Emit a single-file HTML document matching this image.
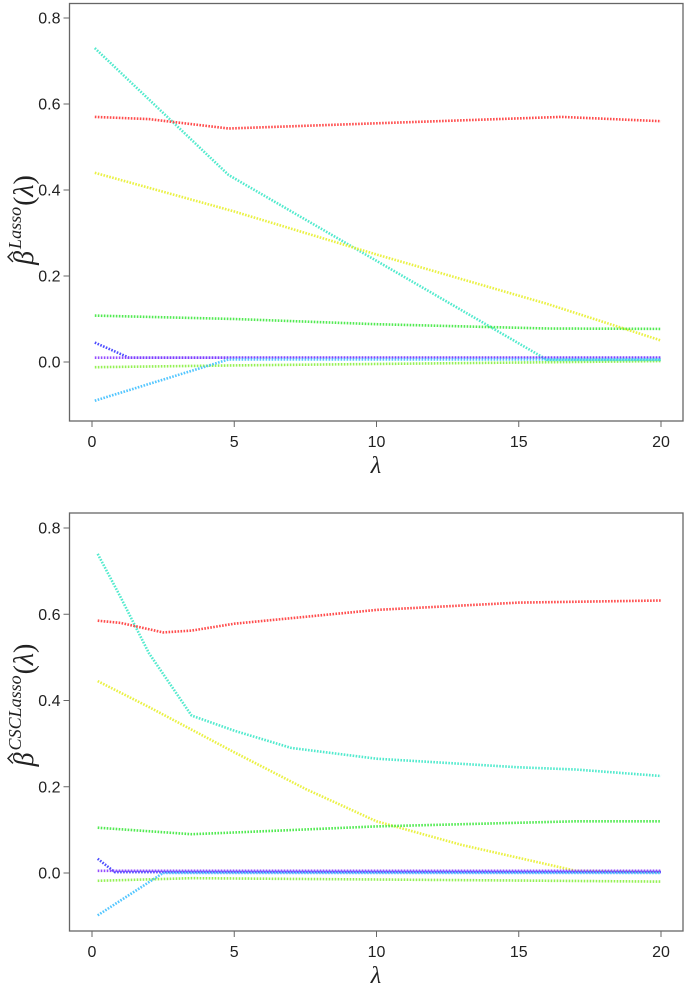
<!DOCTYPE html>
<html><head><meta charset="utf-8"><style>
body{margin:0;background:#fff;}
svg{display:block;font-family:"Liberation Sans",sans-serif;}
</style></head><body>
<svg id="chart" width="685" height="985" viewBox="0 0 685 985" xmlns="http://www.w3.org/2000/svg"></svg>
<script>
// ---- data ----
const xTicks = [0, 5, 10, 15, 20];
const yTicks = [0.0, 0.2, 0.4, 0.6, 0.8];
const yTickLabels = ["0.0", "0.2", "0.4", "0.6", "0.8"];
const seriesNames = ["cyan", "red", "yellow", "green", "blue", "purple", "lightgreen", "skyblue"];
const seriesColors = ["#3ee8c8", "#ff3838", "#e8f030", "#3ee83e", "#3a3aff", "#8a3aff", "#88f040", "#40c0ff"];

// Top panel (Lasso)
const topCyanX = [0.1, 4.8, 16, 20];       const topCyanY = [0.73, 0.435, 0.005, 0.005];
const topRedX = [0.1, 2, 4.8, 10, 16.5, 20]; const topRedY = [0.57, 0.565, 0.543, 0.555, 0.57, 0.56];
const topYellowX = [0.1, 5, 10, 16, 20];   const topYellowY = [0.44, 0.35, 0.25, 0.135, 0.05];
const topGreenX = [0.1, 5, 10, 16, 20];    const topGreenY = [0.108, 0.1, 0.088, 0.078, 0.077];
const topBlueX = [0.1, 1.3, 20];           const topBlueY = [0.045, 0.01, 0.01];
const topPurpleX = [0.1, 20];              const topPurpleY = [0.01, 0.01];
const topLgreenX = [0.1, 5, 20];           const topLgreenY = [-0.012, -0.008, 0.002];
const topSkyX = [0.1, 4.8, 20];            const topSkyY = [-0.09, 0.006, 0.006];

// Bottom panel (CSC Lasso)
const botCyanX = [0.2, 1, 2, 3.5, 5, 7, 10, 15, 17, 20];
const botCyanY = [0.74, 0.64, 0.51, 0.365, 0.33, 0.29, 0.265, 0.245, 0.24, 0.225];
const botRedX = [0.2, 1, 2.5, 3.5, 5, 10, 15, 20];
const botRedY = [0.585, 0.58, 0.558, 0.562, 0.578, 0.61, 0.627, 0.632];
const botYellowX = [0.2, 2, 5, 7.5, 10, 13, 15, 17, 20];
const botYellowY = [0.445, 0.385, 0.28, 0.195, 0.12, 0.065, 0.035, 0.005, 0.002];
const botGreenX = [0.2, 3.5, 5, 10, 17, 20]; const botGreenY = [0.105, 0.09, 0.094, 0.108, 0.12, 0.12];
const botBlueX = [0.2, 0.8, 20];           const botBlueY = [0.033, 0.002, 0.002];
const botPurpleX = [0.2, 20];              const botPurpleY = [0.005, 0.005];
const botLgreenX = [0.2, 3.5, 10, 20];     const botLgreenY = [-0.018, -0.012, -0.015, -0.02];
const botSkyX = [0.2, 2.5, 20];            const botSkyY = [-0.098, 0.0, 0.0];

const NS = "http://www.w3.org/2000/svg";
const svg = document.getElementById("chart");
function mk(tag, attrs, parent) {
  const e = document.createElementNS(NS, tag);
  for (const k in attrs) e.setAttribute(k, attrs[k]);
  (parent || svg).appendChild(e);
  return e;
}

function panel(top, bottom, y0px, y8px, key, labelSup, labelCy, xsList, ysList) {
  const left = 69.5, right = 683;
  const xs = v => 92 + v * (661 - 92) / 20;
  const ys = v => y0px + v * (y8px - y0px) / 0.8;
  const g = mk("g", {});
  
  
  const frame = mk("rect", {x: left, y: top, width: right - left, height: bottom - top, fill: "none", stroke: "#666", "stroke-width": 1.3}, g);
  
  
  yTicks.forEach((t, i) => {
    const y = ys(t);
    mk("line", {x1: left - 6, x2: left, y1: y, y2: y, stroke: "#666", "stroke-width": 1}, g);
    const tx = mk("text", {x: left - 9, y: y + 5.5, "text-anchor": "end", "font-size": 16, fill: "#222"}, g);
    tx.textContent = yTickLabels[i];
    
    
  });
  xTicks.forEach(t => {
    const x = xs(t);
    mk("line", {x1: x, x2: x, y1: bottom, y2: bottom + 6, stroke: "#666", "stroke-width": 1}, g);
    const tx = mk("text", {x: x, y: bottom + 26, "text-anchor": "middle", "font-size": 16, fill: "#222"}, g);
    tx.textContent = t;
    
    
  });
  const xl = mk("text", {x: 376, y: bottom + 52, "text-anchor": "middle", "font-size": 24, "font-style": "italic", "font-family": "Liberation Serif, serif", fill: "#222"}, g);
  xl.textContent = "λ";
  
  
  const lg = mk("g", {transform: `translate(33,${labelCy}) rotate(-90)`}, g);
  
  
  const yl = mk("text", {x: 0, y: 0, "text-anchor": "middle", "font-size": 28, "font-family": "Liberation Serif, serif", fill: "#222"}, lg);
  yl.innerHTML = `<tspan font-style="italic">β</tspan><tspan font-size="18" font-style="italic" dx="2" dy="-12">${labelSup}</tspan><tspan dy="12" dx="1">(</tspan><tspan font-style="italic">λ</tspan><tspan>)</tspan>`;
  const bb = yl.getBBox();
  const hx = bb.x + 9;
  mk("polyline", {points: `${hx-5},-20 ${hx},-25 ${hx+5},-20`, fill: "none", stroke: "#222", "stroke-width": 1.4}, lg);
  xsList.forEach((xa, i) => {
    const pts = xa.map((v, j) => xs(v).toFixed(1) + "," + ys(ysList[i][j]).toFixed(1)).join(" ");
    const pl = mk("polyline", {points: pts, fill: "none", stroke: seriesColors[i], "stroke-width": 2.6, "stroke-dasharray": "1.6 1.4", "stroke-opacity": 0.9}, g);
    
    
  });
}

panel(3.5, 421, 362, 18, "lasso", "Lasso", 220,
  [topCyanX, topRedX, topYellowX, topGreenX, topBlueX, topPurpleX, topLgreenX, topSkyX],
  [topCyanY, topRedY, topYellowY, topGreenY, topBlueY, topPurpleY, topLgreenY, topSkyY]);
panel(513, 931, 873, 528, "csc-lasso", "CSCLasso", 705,
  [botCyanX, botRedX, botYellowX, botGreenX, botBlueX, botPurpleX, botLgreenX, botSkyX],
  [botCyanY, botRedY, botYellowY, botGreenY, botBlueY, botPurpleY, botLgreenY, botSkyY]);
</script>
</body></html>
